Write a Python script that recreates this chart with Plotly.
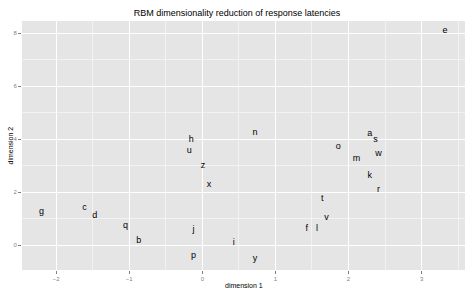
import plotly.graph_objects as go

labels = ["e", "g", "c", "d", "q", "b", "j", "p", "i", "y", "x", "z", "h", "u", "n",
          "o", "a", "s", "w", "m", "k", "r", "t", "v", "f", "l"]
dim1 = [3.32, -2.20, -1.61, -1.47, -1.05, -0.87, -0.12, -0.12, 0.43, 0.72, 0.09, 0.01, -0.15, -0.18, 0.72,
        1.86, 2.29, 2.37, 2.41, 2.11, 2.29, 2.41, 1.64, 1.70, 1.43, 1.57]
dim2 = [8.09, 1.26, 1.41, 1.12, 0.74, 0.19, 0.58, -0.38, 0.08, -0.52, 2.28, 2.99, 3.97, 3.56, 4.26,
        3.70, 4.20, 3.97, 3.47, 3.27, 2.62, 2.09, 1.77, 1.04, 0.62, 0.62]

FONT = "Liberation Sans, Arial, sans-serif"

fig = go.Figure()
fig.add_trace(go.Scatter(
    x=dim1, y=dim2, mode="text", text=labels,
    textfont=dict(family=FONT, size=9, color="black"),
    textposition="middle center", hoverinfo="skip", showlegend=False,
))

axis_common = dict(
    showgrid=True, gridcolor="white", gridwidth=1,
    zeroline=False, showline=False, automargin=False,
    ticks="outside", ticklen=3, tickcolor="#7f7f7f", tickwidth=1,
    tickfont=dict(family=FONT, size=6, color="#7f7f7f"),
)

fig.update_layout(
    width=474, height=293,
    margin=dict(l=22, r=9, t=21, b=23, autoexpand=False),
    paper_bgcolor="white", plot_bgcolor="#E5E5E5",
    title=dict(text="RBM dimensionality reduction of response latencies",
               x=0.5, xanchor="center", y=0.967, yanchor="top",
               font=dict(family=FONT, size=9, color="black")),
    xaxis=dict(range=[-2.466, 3.593], tick0=0, dtick=1,
               minor=dict(dtick=0.5, tick0=0, showgrid=True, gridcolor="#F2F2F2", gridwidth=0.5, ticks=""),
               **axis_common),
    yaxis=dict(range=[-0.93, 8.46], tick0=0, dtick=2,
               minor=dict(dtick=1, tick0=0, showgrid=True, gridcolor="#F2F2F2", gridwidth=0.5, ticks=""),
               **axis_common),
    annotations=[
        dict(text="dimension 1", xref="paper", yref="paper", x=0.5, y=-0.0, yshift=-15,
             xanchor="center", yanchor="middle", showarrow=False,
             font=dict(family=FONT, size=7, color="black")),
        dict(text="dimension 2", xref="paper", yref="paper", x=0, y=0.5, xshift=-12,
             xanchor="center", yanchor="middle", textangle=-90, showarrow=False,
             font=dict(family=FONT, size=7, color="black")),
    ],
)

fig.write_html("out.html")
